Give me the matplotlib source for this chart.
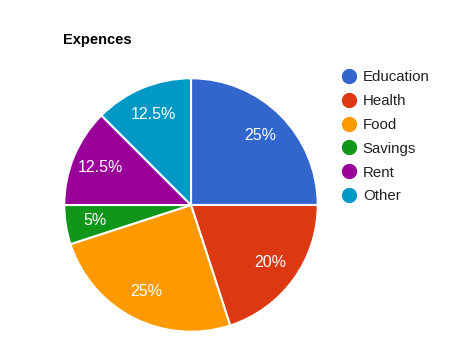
import matplotlib.pyplot as plt
from matplotlib.lines import Line2D

plt.rcParams["font.family"] = ["Liberation Sans", "DejaVu Sans"]

categories = ["Education", "Health", "Food", "Savings", "Rent", "Other"]
shares = [25, 20, 25, 5, 12.5, 12.5]
colors = ["#3366CC", "#DC3912", "#FF9900", "#109618", "#990099", "#0099C6"]

W, H = 474, 364
fig = plt.figure(figsize=(W / 100, H / 100), dpi=100)

# pie box in pixels: centre (191, 205), radius 128
cx, cy, r = 191, 205, 128
ax = fig.add_axes([(cx - r) / W, (H - cy - r) / H, 2 * r / W, 2 * r / H])
ax.pie(
    shares,
    colors=colors,
    startangle=90,
    counterclock=False,
    radius=1.0,
    autopct=lambda p: f"{p:g}%",
    pctdistance=0.77,
    wedgeprops=dict(edgecolor="white", linewidth=1.5),
    textprops=dict(color="white", fontsize=11.5),
)
ax.set_xlim(-1.01, 1.01)
ax.set_ylim(-1.01, 1.01)
ax.set_aspect("equal")
ax.axis("off")

fig.text(63 / W, 1 - 40 / H, "Expences", fontsize=10.5, fontweight="bold",
         va="center", ha="left", color="#000000")

handles = [
    Line2D([0], [0], marker="o", linestyle="none", markersize=10,
           markerfacecolor=c, markeredgecolor=c, label=lab)
    for lab, c in zip(categories, colors)
]
fig.legend(
    handles=handles,
    loc="upper left",
    bbox_to_anchor=(341 / W, 1 - 70 / H),
    frameon=False,
    fontsize=10.8,
    labelspacing=0.66,
    handlelength=1.0,
    handletextpad=0.45,
    borderpad=0,
    borderaxespad=0,
    labelcolor="#222222",
)

fig.savefig("out.png", dpi=100, facecolor="white")
